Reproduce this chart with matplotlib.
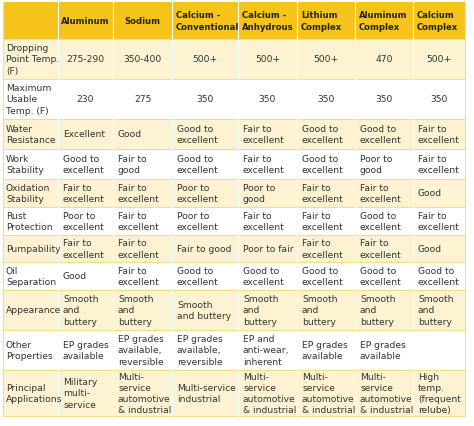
import matplotlib
matplotlib.use("Agg")
import matplotlib.pyplot as plt
from matplotlib.patches import Rectangle

columns = ["Aluminum", "Sodium", "Calcium -\nConventional", "Calcium -\nAnhydrous",
           "Lithium\nComplex", "Aluminum\nComplex", "Calcium\nComplex"]
row_labels = ["Dropping\nPoint Temp.\n(F)", "Maximum\nUsable\nTemp. (F)", "Water\nResistance",
              "Work\nStability", "Oxidation\nStability", "Rust\nProtection", "Pumpability",
              "Oil\nSeparation", "Appearance", "Other\nProperties", "Principal\nApplications"]
dropping_point = ["275-290", "350-400", "500+", "500+", "500+", "470", "500+"]
max_usable = ["230", "275", "350", "350", "350", "350", "350"]
GE = "Good to\nexcellent"; FE = "Fair to\nexcellent"; PE = "Poor to\nexcellent"
water = ["Excellent", "Good", GE, FE, GE, GE, FE]
work = [GE, "Fair to\ngood", GE, FE, GE, "Poor to\ngood", FE]
oxidation = [FE, FE, PE, "Poor to\ngood", FE, FE, "Good"]
rust = [PE, FE, PE, FE, FE, GE, FE]
pump = [FE, FE, "Fair to good", "Poor to fair", FE, FE, "Good"]
oil = ["Good", FE, GE, GE, GE, GE, GE]
SB = "Smooth\nand\nbuttery"
appearance = [SB, SB, "Smooth\nand buttery", SB, SB, SB, SB]
other = ["EP grades\navailable", "EP grades\navailable,\nreversible", "EP grades\navailable,\nreversible",
         "EP and\nanti-wear,\ninherent", "EP grades\navailable", "EP grades\navailable", ""]
principal = ["Military\nmulti-\nservice", "Multi-\nservice\nautomotive\n& industrial", "Multi-service\nindustrial",
             "Multi-\nservice\nautomotive\n& industrial", "Multi-\nservice\nautomotive\n& industrial",
             "Multi-\nservice\nautomotive\n& industrial", "High\ntemp.\n(frequent\nrelube)"]
rows = [dropping_point, max_usable, water, work, oxidation, rust, pump, oil, appearance, other, principal]

W, H = 474, 427
fig = plt.figure(figsize=(W/100, H/100), dpi=100)
ax = fig.add_axes([0, 0, 1, 1])
ax.set_xlim(0, W); ax.set_ylim(H, 0); ax.axis("off")

xs = [3, 58, 113, 172, 238, 297, 355, 413, 465]
ys = [3, 40, 80, 120, 150, 180, 208, 236, 263, 291, 331, 371, 417]
gold = "#F6C21C"; cream = "#FDF3D2"; line = "#F3DC8A"
fs = 6.6

ax.add_patch(Rectangle((xs[0], ys[0]), xs[-1]-xs[0], ys[1]-ys[0], color=gold, lw=0))
for i in range(len(rows)):
    c = cream if i % 2 == 0 else "white"
    ax.add_patch(Rectangle((xs[0], ys[i+1]), xs[-1]-xs[0], ys[i+2]-ys[i+1], color=c, lw=0))
for y in ys:
    ax.plot([xs[0], xs[-1]], [y, y], color=line if y > 3 else gold, lw=0.8)
for x in xs:
    ax.plot([x, x], [ys[0], ys[-1]], color="white", lw=0.8)
ax.plot([xs[0], xs[0]], [ys[0], ys[-1]], color=line, lw=0.8)
ax.plot([xs[-1], xs[-1]], [ys[0], ys[-1]], color=line, lw=0.8)

for j, col in enumerate(columns):
    cx = (xs[j+1]+xs[j+2])/2
    ax.text(xs[j+1]+4 if "\n" in col else cx, (ys[0]+ys[1])/2, col,
            ha="left" if "\n" in col else "center", va="center",
            fontsize=6.1, fontweight="bold", color="#222222", linespacing=1.3)
for i, (lab, vals) in enumerate(zip(row_labels, rows)):
    cy = (ys[i+1]+ys[i+2])/2
    ax.text(xs[0]+3, cy, lab, ha="left", va="center", fontsize=fs, color="#333333", linespacing=1.3)
    for j, v in enumerate(vals):
        if i < 2:
            ax.text((xs[j+1]+xs[j+2])/2, cy, v, ha="center", va="center", fontsize=fs, color="#333333")
        else:
            ax.text(xs[j+1]+5, cy, v, ha="left", va="center", fontsize=fs, color="#333333", linespacing=1.3)

fig.savefig("out.png", dpi=100)
